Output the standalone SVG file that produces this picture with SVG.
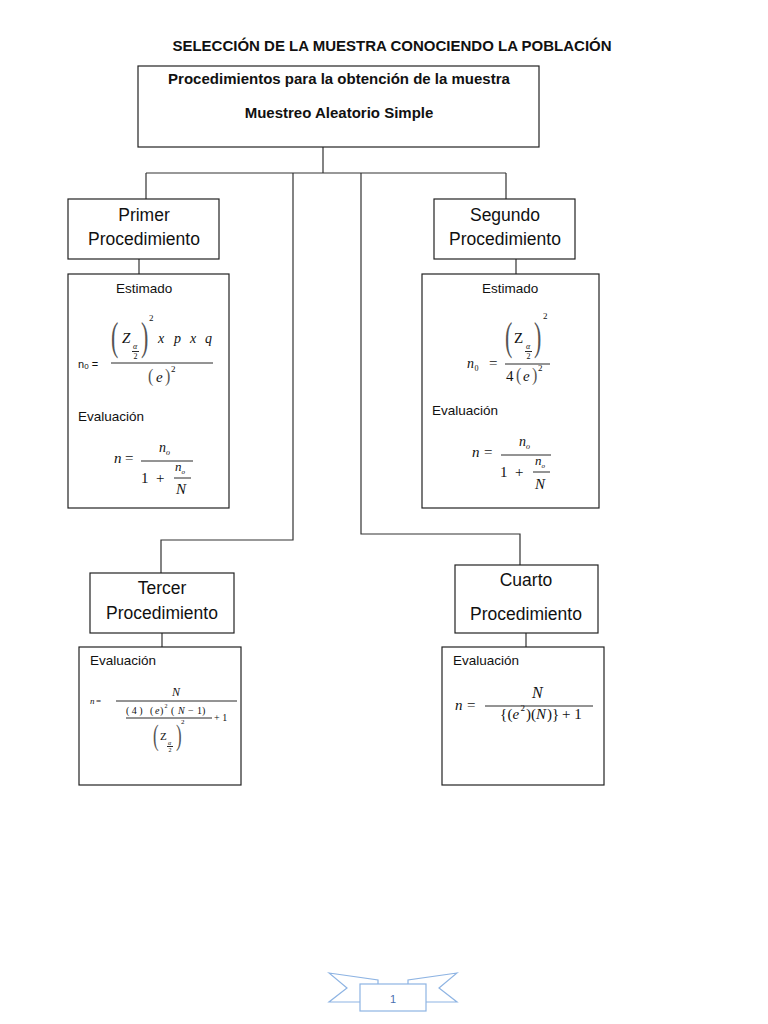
<svg xmlns="http://www.w3.org/2000/svg" width="768" height="1024" viewBox="0 0 768 1024">
<style>
.box{fill:#fff;stroke:#222;stroke-width:1.2}
.ln{fill:none;stroke:#333;stroke-width:1.2}
.fl{stroke:#111;stroke-width:0.9}
.sans{font-family:"Liberation Sans",Arial,sans-serif;fill:#111}
.b{font-weight:bold}
.hd{font-family:"Liberation Sans",Arial,sans-serif;font-size:17.5px;fill:#111;text-anchor:middle}
.lbl{font-family:"Liberation Sans",Arial,sans-serif;font-size:13.5px;fill:#111}
.m{font-family:"Liberation Serif","Times New Roman",serif;fill:#111}
.i{font-style:italic}
.par{font-family:"Liberation Serif","Times New Roman",serif;fill:#555;font-weight:normal}
</style>
<rect width="768" height="1024" fill="#fff"/>

<text class="sans b" x="392" y="51" font-size="15" text-anchor="middle">SELECCIÓN DE LA MUESTRA CONOCIENDO LA POBLACIÓN</text>

<g id="connectors">
<path class="ln" d="M323,147 V173 M146,173 H506 M146,173 V199 M506,173 V199"/>
<path class="ln" d="M293,173 V540 H161 V573"/>
<path class="ln" d="M361,173 V534 H520 V565"/>
<path class="ln" d="M139,259 V274"/>
<path class="ln" d="M516,259 V274"/>
<path class="ln" d="M162,633 V647"/>
<path class="ln" d="M526,633 V647"/>
</g>

<g id="top">
<rect class="box" x="138" y="66" width="401" height="81"/>
<text class="sans b" x="339" y="84" font-size="15" text-anchor="middle">Procedimientos para la obtención de la muestra</text>
<text class="sans b" x="339" y="118" font-size="15" text-anchor="middle">Muestreo Aleatorio Simple</text>
</g>

<g id="primer">
<rect class="box" x="68" y="199" width="151" height="60"/>
<text class="hd" x="144" y="221">Primer</text>
<text class="hd" x="144" y="245">Procedimiento</text>
</g>

<g id="segundo">
<rect class="box" x="434" y="199" width="141" height="60"/>
<text class="hd" x="505" y="221">Segundo</text>
<text class="hd" x="505" y="245">Procedimiento</text>
</g>

<g id="primer-formulas">
<rect class="box" x="68" y="274" width="161" height="234"/>
<text class="lbl" x="116" y="293">Estimado</text>
<text class="sans" x="78" y="368" font-size="11">n<tspan font-size="8" dy="1">0</tspan><tspan dy="-1"> =</tspan></text>
<text class="par" transform="translate(111,350) scale(1,1.85)" font-size="22">(</text>
<text class="m i" x="122" y="343" font-size="15">Z</text>
<text class="m i" x="133" y="349" font-size="8">α</text>
<line class="fl" x1="132" y1="351.5" x2="139" y2="351.5" stroke-width="0.6"/>
<text class="m" x="133.5" y="358.5" font-size="8">2</text>
<text class="par" transform="translate(141,350) scale(1,1.85)" font-size="22">)</text>
<text class="m" x="149" y="321" font-size="9">2</text>
<text class="m i" font-size="14" y="343"><tspan x="158">x</tspan><tspan x="174">p</tspan><tspan x="190">x</tspan><tspan x="205">q</tspan></text>
<line class="fl" x1="111" y1="363" x2="213" y2="363"/>
<text class="par" transform="translate(148,382) scale(1,1.2)" font-size="16">(</text>
<text class="m i" x="156" y="382" font-size="15">e</text>
<text class="par" transform="translate(165,382) scale(1,1.2)" font-size="16">)</text>
<text class="m" x="171" y="372" font-size="9">2</text>

<text class="lbl" x="78" y="421" font-size="14">Evaluación</text>
<text class="m i" x="114" y="463" font-size="15">n</text>
<text class="m" x="125" y="463" font-size="15">=</text>
<line class="fl" x1="141" y1="461" x2="193" y2="461"/>
<text class="m i" x="159" y="452" font-size="14">n</text>
<text class="m i" x="166" y="455" font-size="8">o</text>
<text class="m" x="141" y="483" font-size="15">1</text>
<text class="m" x="156" y="483" font-size="15">+</text>
<text class="m i" x="175" y="471" font-size="13">n</text>
<text class="m i" x="181.5" y="474" font-size="7">o</text>
<line class="fl" x1="174" y1="478" x2="191" y2="478"/>
<text class="m i" x="176" y="494" font-size="15">N</text>
</g>

<g id="segundo-formulas">
<rect class="box" x="422" y="274" width="177" height="234"/>
<text class="lbl" x="482" y="293">Estimado</text>
<text class="m i" x="467" y="368" font-size="14">n</text>
<text class="m" x="474.5" y="371" font-size="8">0</text>
<text class="m" x="489" y="368" font-size="15">=</text>
<line class="fl" x1="505" y1="364" x2="550" y2="364"/>
<text class="par" transform="translate(505,350) scale(1,1.85)" font-size="22">(</text>
<text class="m" x="514" y="343" font-size="15">Z</text>
<text class="m i" x="526" y="349" font-size="8">α</text>
<line class="fl" x1="525" y1="351.5" x2="532" y2="351.5" stroke-width="0.6"/>
<text class="m" x="526.5" y="358.5" font-size="8">2</text>
<text class="par" transform="translate(534,350) scale(1,1.85)" font-size="22">)</text>
<text class="m" x="543" y="319" font-size="9">2</text>
<text class="m" x="506" y="381" font-size="15">4</text>
<text class="par" transform="translate(516,381) scale(1,1.2)" font-size="16">(</text>
<text class="m i" x="523" y="381" font-size="15">e</text>
<text class="par" transform="translate(532,381) scale(1,1.2)" font-size="16">)</text>
<text class="m" x="538" y="371" font-size="9">2</text>

<text class="lbl" x="432" y="415" font-size="14">Evaluación</text>
<text class="m i" x="472" y="457" font-size="15">n</text>
<text class="m" x="484" y="457" font-size="15">=</text>
<line class="fl" x1="501" y1="455" x2="551" y2="455"/>
<text class="m i" x="519" y="446" font-size="14">n</text>
<text class="m i" x="526" y="449" font-size="8">o</text>
<text class="m" x="500" y="477" font-size="15">1</text>
<text class="m" x="515" y="477" font-size="15">+</text>
<text class="m i" x="535" y="465" font-size="13">n</text>
<text class="m i" x="541.5" y="468" font-size="7">o</text>
<line class="fl" x1="533" y1="472" x2="550" y2="472"/>
<text class="m i" x="535" y="489" font-size="15">N</text>
</g>

<g id="tercer">
<rect class="box" x="90" y="573" width="144" height="60"/>
<text class="hd" x="162" y="594">Tercer</text>
<text class="hd" x="162" y="619">Procedimiento</text>
</g>

<g id="cuarto">
<rect class="box" x="455" y="565" width="143" height="68"/>
<text class="hd" x="526" y="586">Cuarto</text>
<text class="hd" x="526" y="620">Procedimiento</text>
</g>

<g id="tercer-formulas">
<rect class="box" x="79" y="647" width="162" height="138"/>
<text class="lbl" x="90" y="665">Evaluación</text>
<text class="m i" x="90" y="704" font-size="9">n</text>
<text class="m" x="96" y="704" font-size="9">=</text>
<line class="fl" x1="116" y1="701" x2="237" y2="701"/>
<text class="m i" x="172" y="696" font-size="12">N</text>
<text class="m" font-size="10" y="714"><tspan x="126">( 4 )</tspan><tspan x="150">(</tspan><tspan x="155" font-style="italic">e</tspan><tspan x="160">)</tspan></text>
<text class="m" font-size="10" y="714"><tspan x="171">(</tspan><tspan x="178" font-style="italic">N</tspan><tspan x="188">−</tspan><tspan x="197">1)</tspan></text>
<text class="m" x="164.5" y="708" font-size="6">2</text>
<line class="fl" x1="126" y1="718" x2="212" y2="718"/>
<text class="m" x="214" y="721" font-size="10">+ 1</text>
<text class="par" transform="translate(153,745) scale(1,1.7)" font-size="17">(</text>
<text class="m" x="160" y="740" font-size="11">Z</text>
<text class="m i" x="168" y="744.5" font-size="6">α</text>
<line class="fl" x1="167" y1="746.5" x2="173" y2="746.5" stroke-width="0.5"/>
<text class="m" x="168.5" y="752" font-size="6">2</text>
<text class="par" transform="translate(176,745) scale(1,1.7)" font-size="17">)</text>
<text class="m" x="181" y="724" font-size="7">2</text>
</g>

<g id="cuarto-formulas">
<rect class="box" x="442" y="647" width="162" height="138"/>
<text class="lbl" x="453" y="665">Evaluación</text>
<text class="m i" x="455" y="710" font-size="15">n</text>
<text class="m" x="467" y="710" font-size="15">=</text>
<line class="fl" x1="485" y1="706" x2="593" y2="706"/>
<text class="m i" x="532" y="698" font-size="16">N</text>
<text class="m" font-size="15" y="719"><tspan x="500">{</tspan><tspan x="507.5">(</tspan><tspan x="512.5" font-style="italic">e</tspan></text>
<text class="m" x="520.5" y="711" font-size="9">2</text>
<text class="m" font-size="15" y="719"><tspan x="526">)</tspan><tspan x="531">(</tspan><tspan x="536" font-style="italic">N</tspan><tspan x="547">)</tspan><tspan x="552">}</tspan><tspan x="562">+ 1</tspan></text>
</g>

<g id="page-number">
<polygon points="329,973 378,980 378,1002 329,1002 347,988" fill="#fff" stroke="#8EB4E3" stroke-width="1.2"/>
<polygon points="457,973 408,980 408,1002 457,1002 439,988" fill="#fff" stroke="#8EB4E3" stroke-width="1.2"/>
<rect x="360" y="984" width="66" height="27" fill="#fff" stroke="#8EB4E3" stroke-width="1.2"/>
<text class="sans" x="393" y="1003" font-size="11" text-anchor="middle" style="fill:#4A6FAE">1</text>
</g>
</svg>
